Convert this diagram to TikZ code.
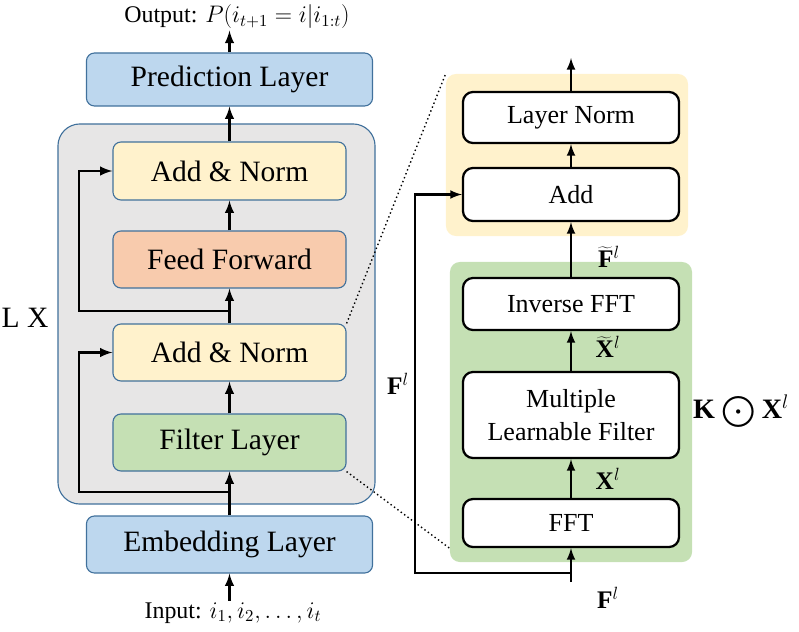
\RequirePackage{fix-cm}
\documentclass[tikz,border=0pt]{standalone}
\usepackage{graphicx}
\usepackage{fontspec}
\setmainfont{Liberation Serif}
\definecolor{bluegray}{HTML}{41719C}
\definecolor{bluefill}{HTML}{BDD7EE}
\definecolor{graybg}{HTML}{E7E6E6}
\definecolor{yellowfill}{HTML}{FFF2CC}
\definecolor{orangefill}{HTML}{F8CBAD}
\definecolor{greenfill}{HTML}{C5E0B4}
\newcommand{\bigdot}{\mathbin{\vcenter{\hbox{\scalebox{2.2}{$\bigodot$}}}}}
\begin{document}
\begin{tikzpicture}[x=0.025cm, y=-0.025cm]

      \tikzset{layer/.style={draw=bluegray, line width=0.8pt, rounded corners=0.2cm, inner sep=0pt, minimum width=5.825cm, minimum height=1.425cm, font=\fontsize{21}{24}\selectfont},
      outer/.style={layer, minimum width=7.15cm},
      block/.style={draw, line width=1.6pt, fill=white, rounded corners=0.25cm, inner sep=0pt, minimum width=5.4cm, align=center, font=\fontsize{18.5}{23}\selectfont},
      backg/.style={rounded corners=0.25cm, inner sep=0pt, minimum width=6.05cm},
      lbl/.style={inner sep=1pt, font=\fontsize{18}{20}\selectfont},
      flow/.style={->, >=latex, line width=2pt}}
      \useasboundingbox (0,0) rectangle (799,631);
%% Left column
      	\node[draw=bluegray, fill=graybg, line width=0.8pt, rounded corners=0.55cm, minimum width=7.925cm, minimum height=9.5cm] (stack) at (216.5,314) {};
      	\node[outer, fill=bluefill, minimum height=1.325cm] (pred) at (229.5,79.5) {Prediction Layer};
      	\node[layer, fill=yellowfill, minimum height=1.45cm] (an1) at (229.5,171) {Add \& Norm};
      	\node[layer, fill=orangefill] (ff) at (229.5,259.5) {Feed Forward};
      	\node[layer, fill=yellowfill] (an2) at (229.5,352.5) {Add \& Norm};
      	\node[layer, fill=greenfill] (filt) at (229.5,442.5) {Filter Layer};
      	\node[outer, fill=bluefill] (emb) at (229.5,544.5) {Embedding Layer};
      	\node[lbl, font=\fontsize{17}{20}\selectfont] (out) at (237,17) {Output: $P(i_{t+1} = i|i_{1:t})$};
      	\node[lbl, font=\fontsize{17}{20}\selectfont] (in) at (233,613) {Input: $i_1, i_2, \ldots, i_t$};
      	\node[font=\fontsize{21}{24}\selectfont] (lx) at (25,318) {L X};
      	\coordinate (b1) at (229.5,492);
      	\coordinate (b1l) at (79,492);
      	\coordinate (b2) at (229.5,311);
      	\coordinate (b2l) at (79,311);
%% Right column
      	\node[backg, fill=yellowfill, minimum height=4.05cm] (ybg) at (567,155) {};
      	\node[backg, fill=greenfill, minimum height=7.5cm] (gbg) at (571,412) {};
      	\node[block, minimum height=1.275cm] (ln) at (571,117.5) {Layer Norm};
      	\node[block, minimum height=1.325cm] (add) at (571,194.5) {Add};
      	\node[block, minimum height=1.3cm] (ifft) at (571,304) {Inverse FFT};
      	\node[block, minimum height=2.15cm] (mlf) at (571,415) {Multiple\\Learnable Filter};
      	\node[block, minimum height=1.2cm] (fft) at (571,523) {FFT};
      	\node[lbl] (ftl) at (609,257) {$\widetilde{\mathbf{F}}^l$};
      	\node[lbl] (xtl) at (608,347) {$\widetilde{\mathbf{X}}^l$};
      	\node[lbl] (xl) at (608,479) {$\mathbf{X}^l$};
      	\node[lbl] (fin) at (608,598) {$\mathbf{F}^l$};
      	\node[lbl] (fres) at (398,384) {$\mathbf{F}^l$};
      	\node[font=\fontsize{20}{23}\selectfont] (kx) at (741,411) {$\mathbf{K} \bigdot \mathbf{X}^l$};
      	\coordinate (top) at (571,58);
      	\coordinate (fstart) at (571,582);
      	\coordinate (r0) at (571,573);
      	\coordinate (r1) at (415,573);
%Edges
		\draw[flow] (emb) -- (filt);
		\draw[flow] (filt) -- (an2);
		\draw[flow] (an2) -- (ff);
		\draw[flow] (ff) -- (an1);
		\draw[flow] (an1) -- (pred);
		\draw[flow] (pred.north) -- (pred.north |- out.south);
		\draw[flow] (emb.south |- in.north) -- (emb.south);
		\draw[flow] (b1) -- (b1l) |- (an2);
		\draw[flow] (b2) -- (b2l) |- (an1);
		\draw[flow, line width=1.8pt] (ln) -- (top);
		\draw[flow, line width=1.8pt] (add) -- (ln);
		\draw[flow, line width=1.8pt] (ifft) -- (add);
		\draw[flow, line width=1.8pt] (mlf) -- (ifft);
		\draw[flow, line width=1.8pt] (fft) -- (mlf);
		\draw[flow, line width=1.8pt] (fstart) -- (fft);
		\draw[flow, line width=1.8pt] (r0) -- (r1) |- (add);
		\draw[dotted, line width=1pt] (an2.north east) -- (ybg.north west);
		\draw[dotted, line width=1pt] (filt.south east) -- ([yshift=0.35cm]gbg.south west);

	\end{tikzpicture}
\end{document}
